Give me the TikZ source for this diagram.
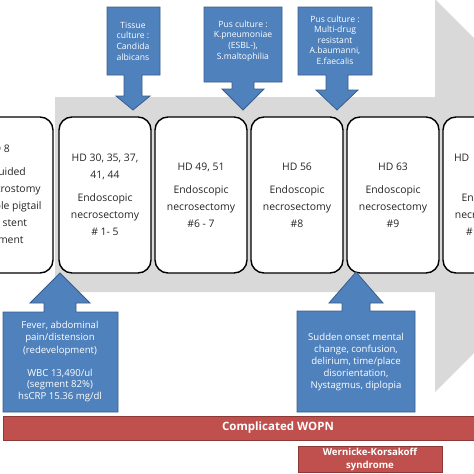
\documentclass[tikz,border=0pt]{standalone}
\usepackage{fontspec}
\setmainfont{Open Sans}
\definecolor{grayarrow}{HTML}{D9D9D9}
\definecolor{callfill}{HTML}{4F81BD}
\definecolor{calldraw}{HTML}{385D8A}
\definecolor{redfill}{HTML}{C0504D}
\definecolor{reddraw}{HTML}{8C3836}
\tikzset{
  hdbox/.style={draw=black, line width=1.4pt, rounded corners=13pt, fill=white,
    minimum width=92pt, minimum height=156pt, inner sep=0pt, align=center,
    font=\fontsize{10.4}{17}\selectfont, text=black!85},
  boxtext/.style={align=center, font=\fontsize{10.4}{17}\selectfont, text=black!85, inner sep=0pt},
  callshape/.style={fill=callfill, draw=calldraw, line width=0.8pt},
  topcall/.style={align=center, text=white, font=\fontsize{8.6}{10.6}\selectfont, inner sep=0pt},
  botcall/.style={align=center, text=white, font=\fontsize{9.6}{12}\selectfont, inner sep=0pt},
  redbar/.style={fill=redfill, draw=reddraw, line width=0.8pt},
  redtext/.style={align=center, text=white, inner sep=0pt}
}
\begin{document}
\begin{tikzpicture}[x=1pt,y=-1pt]
\useasboundingbox (0,0) rectangle (474,474);
\clip (0,0) rectangle (474,474);
% big gray arrow
\fill[grayarrow] (55,97) -- (435,97) -- (435,-1) -- (631,196) -- (435,392) -- (435,292) -- (55,292) -- cycle;
% timeline boxes
\node[hdbox] (b1) at (7,195) {};
\node[boxtext] (t1) at (-2,195) {HD 8\\[6pt]EUS-guided\\cystogastrostomy\\and double pigtail\\plastic stent\\placement};
\node[hdbox] (b2) at (105,195) {HD 30, 35, 37,\\41, 44\\[6pt]Endoscopic\\necrosectomy\\\# 1- 5};
\node[hdbox] (b3) at (201,195) {HD 49, 51\\[6pt]Endoscopic\\necrosectomy\\\#6 - 7};
\node[hdbox] (b4) at (297,195) {HD 56\\[6pt]Endoscopic\\necrosectomy\\\#8};
\node[hdbox] (b5) at (393,195) {HD 63\\[6pt]Endoscopic\\necrosectomy\\\#9};
\node[hdbox] (b6) at (489,195) {\makebox[70pt][l]{HD}\\\phantom{00}\\[6pt]Endoscopic\\necrosectomy\\\makebox[46pt][l]{\#}};
% top callouts (down arrows)
\draw[callshape] (107,7) -- (160,7) -- (160,75) -- (142,75) -- (142,96) -- (150,96) -- (133,110) -- (116,96) -- (124,96) -- (124,75) -- (107,75) -- cycle;
\node[topcall] (c1) at (133,41) {Tissue\\culture :\\Candida\\albicans};
\draw[callshape] (204,7) -- (282,7) -- (282,82) -- (254,82) -- (254,89) -- (264,89) -- (243,110) -- (222,89) -- (232,89) -- (232,82) -- (204,82) -- cycle;
\node[topcall] (c2) at (243,41) {Pus culture :\\K.pneumoniae\\(ESBL-),\\S.maltophilia};
\draw[callshape] (298,7) -- (372,7) -- (372,75) -- (348,75) -- (348,90) -- (358,90) -- (337,110) -- (316,90) -- (326,90) -- (326,75) -- (298,75) -- cycle;
\node[topcall] (c3) at (335,40) {Pus culture :\\Multi-drug\\resistant\\A.baumanni,\\E.faecalis};
% bottom callouts (up arrows)
\draw[callshape] (3,412) -- (118,412) -- (118,312) -- (76,312) -- (76,303) -- (90,303) -- (60,273) -- (30,303) -- (44,303) -- (44,312) -- (3,312) -- cycle;
\node[botcall] (c4) at (60,362) {Fever, abdominal\\pain/distension\\(redevelopment)\\[11pt]WBC 13,490/ul\\(segment 82\%)\\hsCRP 15.36 mg/dl};
\draw[callshape] (297,412) -- (415,412) -- (415,311) -- (370,311) -- (370,303) -- (383,303) -- (356,272) -- (329,303) -- (342,303) -- (342,311) -- (297,311) -- cycle;
\node[botcall] (c5) at (356,362) {Sudden onset mental\\change, confusion,\\delirium, time/place\\disorientation,\\Nystagmus, diplopia};
% red bars
\draw[redbar] (3,416) rectangle (480,440);
\node[redtext, font=\bfseries\fontsize{11.5}{14}\selectfont] (wopn) at (278,428) {Complicated WOPN};
\draw[redbar] (298,446) rectangle (442,472);
\node[redtext, font=\bfseries\fontsize{9.6}{13}\selectfont] (wks) at (370,459) {Wernicke-Korsakoff\\syndrome};
\end{tikzpicture}
\end{document}
